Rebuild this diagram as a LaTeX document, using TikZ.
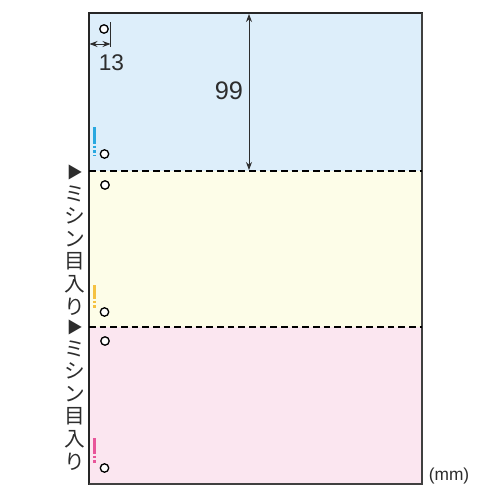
\documentclass[tikz,border=0pt]{standalone}
\usepackage{fontspec}
\setmainfont{Liberation Sans}
\newfontfamily\jpfont{Noto Sans CJK JP}
\usetikzlibrary{arrows.meta}

\definecolor{sheetblue}{RGB}{221,238,250}
\definecolor{sheetyellow}{RGB}{253,253,232}
\definecolor{sheetpink}{RGB}{251,230,240}
\definecolor{markblue}{RGB}{41,168,224}
\definecolor{markyellow}{RGB}{245,194,66}
\definecolor{markpink}{RGB}{232,85,154}
\definecolor{inkgray}{RGB}{45,45,45}

\newcommand{\perfmark}{{\fontsize{12}{12}\selectfont ▶}}

\tikzset{
  hole/.style={draw=black,fill=white,line width=1pt},
  perforation/.style={draw=black,line width=0.9pt,dash pattern=on 5pt off 3pt},
  dimline/.style={draw=inkgray,line width=0.7pt},
  dimarrow/.style={dimline,{Stealth[length=6pt,width=4.5pt]}-{Stealth[length=6pt,width=4.5pt]}},
  dimtext/.style={inner sep=0.75pt,text=inkgray},
  perflabel/.style={anchor=north,inner sep=0pt,align=center,text=inkgray,
    font=\jpfont\fontsize{15.5}{16.9}\selectfont},
  markbar/.style={line width=2.4pt}
}

\begin{document}
\begin{tikzpicture}[x=0.75pt,y=0.75pt,yscale=-1,xscale=1]
\path[use as bounding box] (0,0) rectangle (500,500);

%Shape: Rectangle [blue part]
\fill[sheetblue] (89,13) rectangle (422,171);
%Shape: Rectangle [yellow part]
\fill[sheetyellow] (89,171) rectangle (422,327);
%Shape: Rectangle [pink part]
\fill[sheetpink] (89,327) rectangle (422,484);
%Shape: Rectangle [sheet outline]
\draw[black!85,line width=1pt] (89,13) rectangle (422,484);
\draw[black!75,line width=1.6pt] (89,484) -- (422,484) -- (422,13);

%Straight Lines [perforations]
\draw[perforation] (89,171) -- (422,171);
\draw[perforation] (89,327) -- (422,327);

%Shape: Circle [holes]
\draw[hole] (104,29) circle [radius=4.2];
\draw[hole] (104.5,154) circle [radius=4.2];
\draw[hole] (105,185) circle [radius=4.2];
\draw[hole] (104.5,312) circle [radius=4.2];
\draw[hole] (105,341) circle [radius=4.2];
\draw[hole] (104.5,468) circle [radius=4.2];

%Straight Lines [colour marks]
\draw[markblue,markbar] (94.5,127) -- (94.5,141);
\draw[markblue,markbar,dash pattern=on 2pt off 1.5pt] (94.5,141) -- (94.5,156);
\draw[markyellow,markbar] (94.5,285) -- (94.5,296);
\draw[markyellow,markbar,dash pattern=on 2pt off 1.5pt] (94.5,296) -- (94.5,308);
\draw[markpink,markbar] (94.5,438) -- (94.5,451);
\draw[markpink,markbar,dash pattern=on 2pt off 1.5pt] (94.5,451) -- (94.5,464);

% Dimension 13
\coordinate (edgeL) at (89.5,44);
\coordinate (holeX) at (110.5,44);
\coordinate (extTop) at (110.5,22);
\coordinate (extBot) at (110.5,47);
\draw[dimline] (extTop) -- (extBot);
\draw[dimarrow] (edgeL) -- (holeX);
\node[dimtext,font=\fontsize{17}{17}\selectfont] (dimA) at (111.5,62.5) {13};

% Dimension 99
\coordinate (topEdge) at (249,14);
\coordinate (perfEdge) at (249,170);
\draw[dimarrow] (topEdge) -- (perfEdge);
\node[dimtext,font=\fontsize{19}{19}\selectfont] (dimB) at (229,90.5) {99};

% Text Node
\node[perflabel] (perfA) at (75,165) {\perfmark\\ミ\\シ\\ン\\目\\入\\り};
% Text Node
\node[perflabel] (perfB) at (75,320) {\perfmark\\ミ\\シ\\ン\\目\\入\\り};
% Text Node
\node[dimtext,font=\fontsize{13}{13}\selectfont] (unit) at (449,476) {(mm)};

\end{tikzpicture}
\end{document}
